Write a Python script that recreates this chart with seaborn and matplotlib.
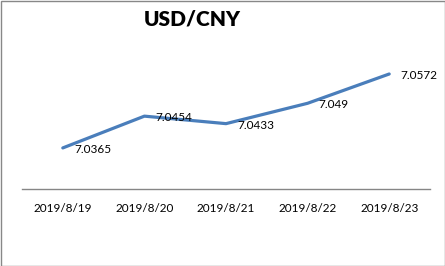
import matplotlib
matplotlib.use("Agg")
import matplotlib.pyplot as plt
import seaborn as sns
import pandas as pd
from matplotlib.patches import Rectangle

dates = ["2019/8/19", "2019/8/20", "2019/8/21", "2019/8/22", "2019/8/23"]
rates = [7.0365, 7.0454, 7.0433, 7.049, 7.0572]
labels = ["7.0365", "7.0454", "7.0433", "7.049", "7.0572"]

df = pd.DataFrame({"pos": list(range(len(dates))), "rate": rates})

sns.set_theme(style="white")
plt.rcParams['font.family'] = ['Lato', 'DejaVu Sans']

fig = plt.figure(figsize=(4.45, 2.66), dpi=100)
ax = fig.add_axes([22/445, 1-189/266, (430-22)/445, (189-64)/266])

sns.lineplot(data=df, x="pos", y="rate", ax=ax, color="#4A7EBB", linewidth=2.3)

for xi, yi, lab in zip(df["pos"], df["rate"], labels):
    ax.annotate(lab, (xi, yi), xytext=(8, -1), textcoords="offset points",
                ha="left", va="center", fontsize=8.5, color="#000000")

ax.set_xlim(-0.5, len(dates) - 0.5)
ax.set_ylim(7.025, 7.06)
ax.set_xticks(range(len(dates)))
ax.set_xticklabels(dates, fontsize=8.5, color="#000000")
ax.set_yticks([])
ax.set_xlabel("")
ax.set_ylabel("")
ax.tick_params(axis="x", length=0, pad=10)
for s in ["top", "right", "left"]:
    ax.spines[s].set_visible(False)
ax.spines["bottom"].set_color("#868686")
ax.spines["bottom"].set_linewidth(1)

fig.text(192/445, 1-19/266, "USD/CNY", ha="center", va="center",
         fontsize=15, fontweight="heavy", color="#000000")

fig.patches.append(Rectangle((0.5/445, 0.5/266), 1-1/445, 1-1/266,
                             transform=fig.transFigure, fill=False,
                             edgecolor="#888888", linewidth=1))

fig.savefig("out.png", dpi=100)
